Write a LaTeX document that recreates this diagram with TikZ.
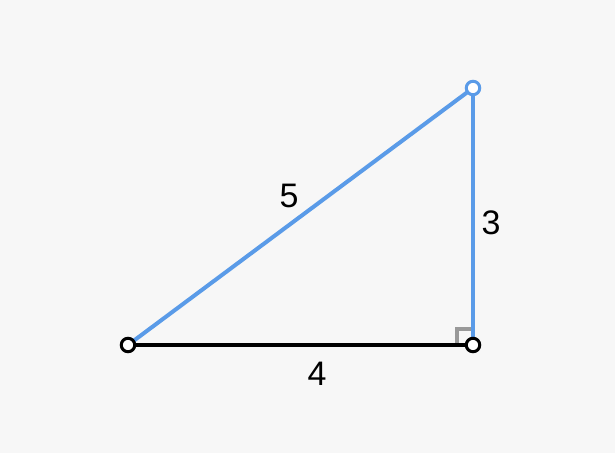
\documentclass[tikz,border=0pt]{standalone}
\usepackage{fontspec}
\setmainfont{Liberation Sans}
\definecolor{bg}{HTML}{F7F7F7}
\definecolor{blueline}{HTML}{5A9BE8}
\definecolor{marker}{HTML}{999999}
\begin{document}
\begin{tikzpicture}[x=1pt,y=1pt,
  pt/.style={circle,draw=black,fill=white,line width=3pt,inner sep=0pt,minimum size=13.5pt},
  ptblue/.style={pt,draw=blueline},
  lbl/.style={font=\fontsize{34}{40}\selectfont,inner sep=0pt},
  side/.style={line width=4pt}]
\fill[bg] (0,0) rectangle (615,453);
\useasboundingbox (0,0) rectangle (615,453);
\coordinate (A) at (128,108);
\coordinate (B) at (473,108);
\coordinate (C) at (473,365);
\draw[marker,line width=3.2pt] (457,108) -- (457,124) -- (473,124);
\draw[side,black] (A) -- (B);
\draw[side,blueline] (A) -- (C);
\draw[side,blueline] (B) -- (C);
\node[pt] (pA) at (A) {};
\node[pt] (pB) at (B) {};
\node[ptblue] (pC) at (C) {};
\node[lbl] (l5) at (289,257) {5};
\node[lbl] (l3) at (491,230) {3};
\node[lbl] (l4) at (317,79) {4};
\end{tikzpicture}
\end{document}
